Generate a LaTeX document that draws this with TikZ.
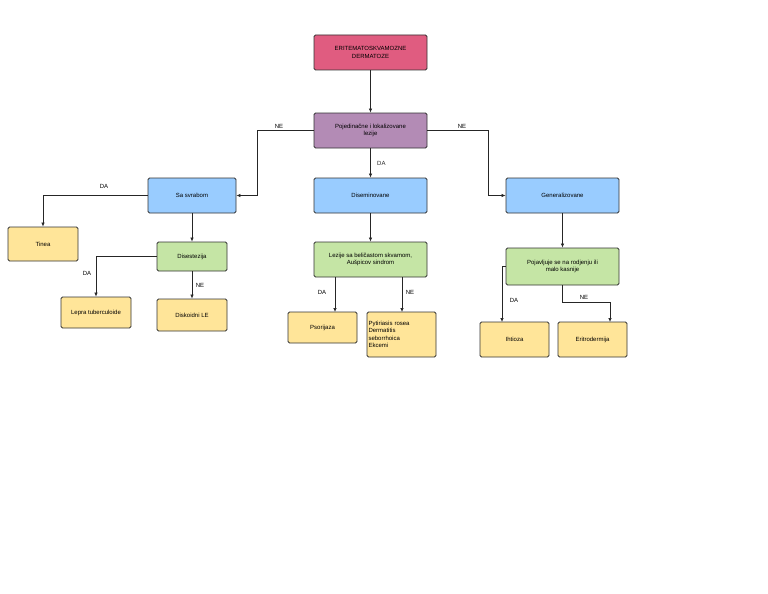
\documentclass[tikz,border=0pt]{standalone}
\usepackage{fontspec}
\setmainfont{Liberation Sans}
\usetikzlibrary{arrows.meta}
\definecolor{cpink}{HTML}{E05C80}
\definecolor{cpurp}{HTML}{B38BB5}
\definecolor{cblue}{HTML}{99CCFF}
\definecolor{cgreen}{HTML}{C5E5A5}
\definecolor{cyel}{HTML}{FFE599}
\begin{document}
\begin{tikzpicture}[x=1pt,y=-1pt,
 box/.style={draw=black!80,line width=0.8pt,rounded corners=1.5pt,align=center,font=\fontsize{6}{7.5}\selectfont,inner sep=1pt},
 lbl/.style={font=\fontsize{6}{7}\selectfont},
 arr/.style={-{Latex[length=4pt,width=3.5pt]},line width=0.7pt,black!85}]
\useasboundingbox (0,0) rectangle (768,594);
\node[box,fill=cpink,minimum width=113pt,minimum height=35pt] (top) at (370.5,52.5) {ERITEMATOSKVAMOZNE\\DERMATOZE};
\node[box,fill=cpurp,minimum width=113pt,minimum height=35pt] (poj) at (370.5,130.5) {Pojedinačne i lokalizovane\\lezije};
\node[box,fill=cblue,minimum width=88pt,minimum height=35pt] (sa) at (192,195.5) {Sa svrabom};
\node[box,fill=cblue,minimum width=113pt,minimum height=35pt] (dis) at (370.5,195.5) {Diseminovane};
\node[box,fill=cblue,minimum width=113pt,minimum height=35pt] (gen) at (562.5,195.5) {Generalizovane};
\node[box,fill=cyel,minimum width=70pt,minimum height=34pt] (tin) at (43,244) {Tinea};
\node[box,fill=cgreen,minimum width=70pt,minimum height=29pt] (dst) at (192,256.5) {Disestezija};
\node[box,fill=cyel,minimum width=70pt,minimum height=31pt] (lep) at (96,312.5) {Lepra tuberculoide};
\node[box,fill=cyel,minimum width=70pt,minimum height=32pt] (dle) at (192,315) {Diskoidni LE};
\node[box,fill=cgreen,minimum width=113pt,minimum height=35pt] (lez) at (370.5,259.5) {Lezije sa beličastom skvamom,\\Aušpicov sindrom};
\node[box,fill=cyel,minimum width=69pt,minimum height=31pt] (pso) at (322.5,327.5) {Psorijaza};
\node[box,fill=cyel,minimum width=69pt,minimum height=45pt,align=left,text width=66pt] (pyt) at (401.5,334.5) {Pytiriasis rosea\\Dermatitis\\seborrhoica\\Ekcemi};
\node[box,fill=cgreen,minimum width=113pt,minimum height=37pt] (pjv) at (562.5,266.5) {Pojavljuje se na rodjenju ili\\malo kasnije};
\node[box,fill=cyel,minimum width=69pt,minimum height=35pt] (iht) at (514.5,339.5) {Ihtioza};
\node[box,fill=cyel,minimum width=69pt,minimum height=35pt] (eri) at (592.5,339.5) {Eritrodermija};
\draw[arr] (top) -- (poj);
\draw[arr] (poj) -- node[lbl,right=3pt,pos=0.5]{DA} (dis);
\draw[arr] (poj.west) -| (257,195.5) -- (sa.east);
\node[lbl] (ne1) at (279,126) {NE};
\draw[arr] (poj.east) -| (488,195.5) -- (gen.west);
\node[lbl] (ne2) at (462,126) {NE};
\draw[arr] (sa.west) -| (tin.north);
\node[lbl] (da1) at (104,186) {DA};
\draw[arr] (sa) -- (dst);
\draw[arr] (dst.west) -| (lep.north);
\node[lbl] (da2) at (87,273) {DA};
\draw[arr] (dst) -- (dle);
\node[lbl] (ne3) at (200,285) {NE};
\draw[arr] (dis) -- (lez);
\draw[arr] (335,277) -- (335,312);
\node[lbl] (da3) at (322,292) {DA};
\draw[arr] (402,277) -- (402,312);
\node[lbl] (ne4) at (410,292) {NE};
\draw[arr] (gen) -- (pjv);
\draw[arr] (pjv.west) -| (502,322);
\node[lbl] (da4) at (514,300) {DA};
\draw[arr] (562.5,285) |- (610,302) -- (610,322);
\node[lbl] (ne5) at (584,297) {NE};
\end{tikzpicture}
\end{document}
